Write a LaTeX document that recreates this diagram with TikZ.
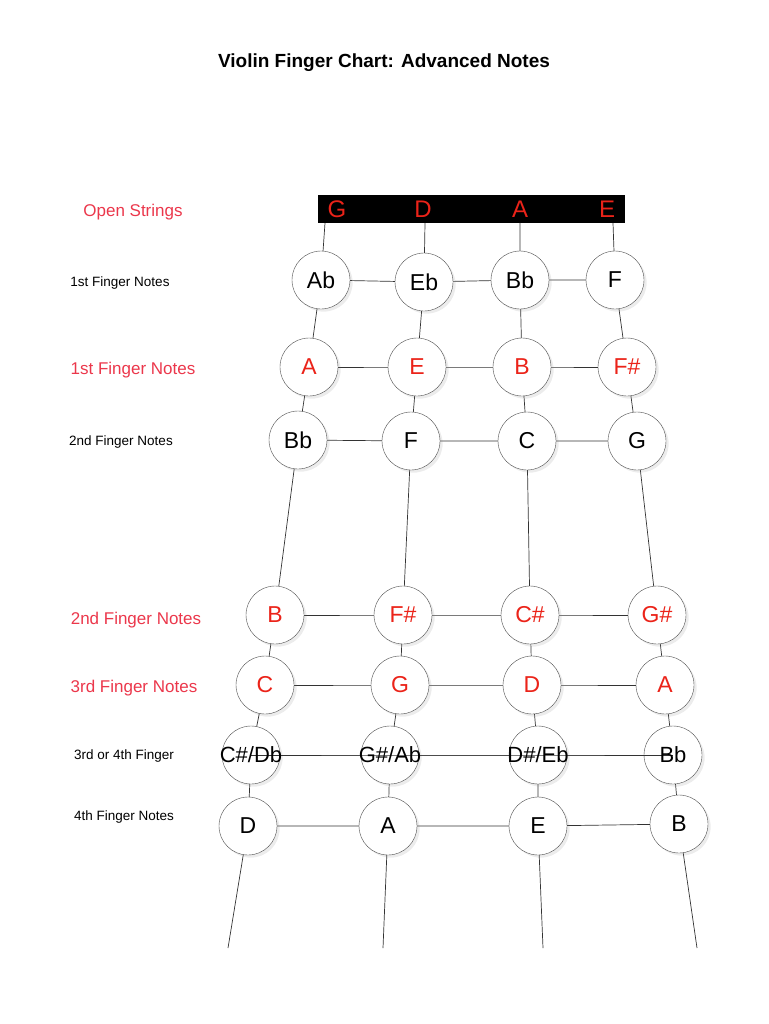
\documentclass[tikz,border=0pt]{standalone}
\usepackage{fontspec}
\setmainfont{Liberation Sans}
\usetikzlibrary{shadows}
\begin{document}
\begin{tikzpicture}[x=1pt,y=-1pt,
  note/.style={circle,draw=black!70,fill=white,minimum size=58pt,inner sep=0pt,font=\fontsize{23}{23}\selectfont,drop shadow={opacity=0.15}},
  rnote/.style={note,text=notered},
  ntxt/.style={font=\fontsize{22}{22}\selectfont},
  lab/.style={font=\fontsize{13.5}{13.5}\selectfont,anchor=center},
  rlab/.style={font=\fontsize{17}{17}\selectfont,text=labred,anchor=center},
  wire/.style={draw=black!80,line width=0.7pt}]
\definecolor{notered}{RGB}{235,35,25}
\definecolor{labred}{RGB}{235,55,75}
\useasboundingbox (0,0) rectangle (768,1024);
\node[font=\bfseries\fontsize{19}{19}\selectfont] (title) at (384,63) {Violin Finger Chart: Advanced Notes};
\fill[black] (318,195) rectangle (625,223);
\foreach \n/\x/\t in {g/337/G,d/423/D,a/520/A,e/607/E}
  \node[font=\fontsize{24}{24}\selectfont,text=notered] (o\n) at (\x,209) {\t};
\foreach \n/\x in {g/325,d/425,a/520,e/613} \coordinate (t\n) at (\x,223);
\foreach \n/\x in {g/228,d/383,a/543,e/697} \coordinate (b\n) at (\x,948);
\coordinate (g1) at (321,280); \coordinate (d1) at (424,282); \coordinate (a1) at (520,280); \coordinate (e1) at (615,280);
\coordinate (g2) at (309,367); \coordinate (d2) at (417,367); \coordinate (a2) at (522,367); \coordinate (e2) at (627,367);
\coordinate (g3) at (298,440); \coordinate (d3) at (411,441); \coordinate (a3) at (527,441); \coordinate (e3) at (637,441);
\coordinate (g4) at (275,615); \coordinate (d4) at (403,615); \coordinate (a4) at (530,615); \coordinate (e4) at (657,615);
\coordinate (g5) at (265,685); \coordinate (d5) at (400,685); \coordinate (a5) at (532,685); \coordinate (e5) at (665,685);
\coordinate (g6) at (251,755); \coordinate (d6) at (390,755); \coordinate (a6) at (538,755); \coordinate (e6) at (673,755);
\coordinate (g7) at (248,826); \coordinate (d7) at (388,826); \coordinate (a7) at (538,826); \coordinate (e7) at (679,824);
\foreach \s in {g,d,a,e}
  \draw[wire] (t\s) -- (\s1) -- (\s2) -- (\s3) -- (\s4) -- (\s5) -- (\s6) -- (\s7) -- (b\s);
\foreach \r in {1,...,7}
  \draw[wire] (g\r) -- (d\r) -- (a\r) -- (e\r);
\newcommand\notes[6]{%
  \node[#6] (ng#1) at (g#1) {#2};
  \node[#6] (nd#1) at (d#1) {#3};
  \node[#6] (na#1) at (a#1) {#4};
  \node[#6] (ne#1) at (e#1) {#5};}
\notes{1}{Ab}{Eb}{Bb}{F}{note}
\notes{2}{A}{E}{B}{F\#}{rnote}
\notes{3}{Bb}{F}{C}{G}{note}
\notes{4}{B}{F\#}{C\#}{G\#}{rnote}
\notes{5}{C}{G}{D}{A}{rnote}
\foreach \s in {g,d,a,e} \node[note] (n\s6) at (\s6) {};
\draw[wire] (g6) -- (d6) -- (a6) -- (e6);
\node[ntxt] (lg6) at (g6) {C\#/Db};
\node[ntxt] (ld6) at (d6) {G\#/Ab};
\node[ntxt] (la6) at (a6) {D\#/Eb};
\node[ntxt] (le6) at (e6) {Bb};
\notes{7}{D}{A}{E}{B}{note}
\node[rlab] (l0) at (133,212) {Open Strings};
\node[lab] (l1) at (120,283) {1st Finger Notes};
\node[rlab] (l2) at (133,370) {1st Finger Notes};
\node[lab] (l3) at (121,442) {2nd Finger Notes};
\node[rlab] (l4) at (136,620) {2nd Finger Notes};
\node[rlab] (l5) at (134,688) {3rd Finger Notes};
\node[lab] (l6) at (124,756) {3rd or 4th Finger};
\node[lab] (l7) at (124,817) {4th Finger Notes};
\end{tikzpicture}
\end{document}
